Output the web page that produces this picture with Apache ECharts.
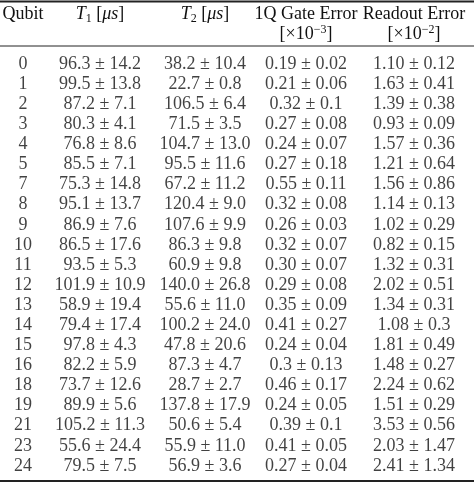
<!DOCTYPE html>
<html><head><meta charset="utf-8">
<script src="https://cdn.jsdelivr.net/npm/echarts@6/dist/echarts.min.js"></script>
<style>html,body{margin:0;padding:0;background:#fff}#c{width:474px;height:483px}</style>
</head><body><div id="c"></div>
<script>
const qubits = ['0','1','2','3','4','5','7','8','9','10','11','12','13','14','15','16','18','19','21','23','24'];
const t1 = ['96.3 ± 14.2','99.5 ± 13.8','87.2 ± 7.1','80.3 ± 4.1','76.8 ± 8.6','85.5 ± 7.1','75.3 ± 14.8','95.1 ± 13.7','86.9 ± 7.6','86.5 ± 17.6','93.5 ± 5.3','101.9 ± 10.9','58.9 ± 19.4','79.4 ± 17.4','97.8 ± 4.3','82.2 ± 5.9','73.7 ± 12.6','89.9 ± 5.6','105.2 ± 11.3','55.6 ± 24.4','79.5 ± 7.5'];
const t2 = ['38.2 ± 10.4','22.7 ± 0.8','106.5 ± 6.4','71.5 ± 3.5','104.7 ± 13.0','95.5 ± 11.6','67.2 ± 11.2','120.4 ± 9.0','107.6 ± 9.9','86.3 ± 9.8','60.9 ± 9.8','140.0 ± 26.8','55.6 ± 11.0','100.2 ± 24.0','47.8 ± 20.6','87.3 ± 4.7','28.7 ± 2.7','137.8 ± 17.9','50.6 ± 5.4','55.9 ± 11.0','56.9 ± 3.6'];
const gateErr = ['0.19 ± 0.02','0.21 ± 0.06','0.32 ± 0.1','0.27 ± 0.08','0.24 ± 0.07','0.27 ± 0.18','0.55 ± 0.11','0.32 ± 0.08','0.26 ± 0.03','0.32 ± 0.07','0.30 ± 0.07','0.29 ± 0.08','0.35 ± 0.09','0.41 ± 0.27','0.24 ± 0.04','0.3 ± 0.13','0.46 ± 0.17','0.24 ± 0.05','0.39 ± 0.1','0.41 ± 0.05','0.27 ± 0.04'];
const readoutErr = ['1.10 ± 0.12','1.63 ± 0.41','1.39 ± 0.38','0.93 ± 0.09','1.57 ± 0.36','1.21 ± 0.64','1.56 ± 0.86','1.14 ± 0.13','1.02 ± 0.29','0.82 ± 0.15','1.32 ± 0.31','2.02 ± 0.51','1.34 ± 0.31','1.08 ± 0.3','1.81 ± 0.49','1.48 ± 0.27','2.24 ± 0.62','1.51 ± 0.29','3.53 ± 0.56','2.03 ± 1.47','2.41 ± 1.34'];
const columns = [qubits, t1, t2, gateErr, readoutErr];

const colCenters = [23, 100, 205, 306, 414];
const FONT = '"Liberation Serif","DejaVu Serif",serif';
const FS = 18;
const chart = echarts.init(document.getElementById('c'));
const series = columns.map((col, ci) => ({
  type: 'scatter', symbolSize: 0, silent: true,
  data: col.map((v, ri) => ({value: [colCenters[ci], ri], txt: v})),
  label: {show: true, position: 'inside', formatter: p => p.data.txt,
    fontFamily: FONT, fontSize: FS, color: '#111'}
}));
const hdr = (x, y, t) => ({type:'text', x, y, style:{text:t, align:'center', verticalAlign:'middle',
  font: FS + 'px ' + FONT, fontSize: FS, fontFamily: FONT, fill:'#111', rich: rich}});
const rich = {
  it:{fontFamily:FONT, fontStyle:'italic', fontSize:FS, fill:'#111'},
  sub:{fontFamily:FONT, fontSize:12, fill:'#111', padding:[9,0,0,0]},
  n:{fontFamily:FONT, fontSize:FS, fill:'#111'},
  sup:{fontFamily:FONT, fontSize:12, fill:'#111', padding:[0,0,9,0]}
};
const line = (y, w) => ({type:'line', shape:{x1:0,y1:y,x2:474,y2:y}, style:{stroke:'#222', lineWidth:w}});
chart.setOption({
  animation: false,
  grid: {left: 0, right: 0, top: 54, bottom: 7},
  xAxis: {type: 'value', min: 0, max: 474, show: false},
  yAxis: {type: 'category', data: qubits, inverse: true, show: false},
  series,
  graphic: [
    line(1.5, 1.8), line(46, 1), line(481, 1.8),
    hdr(colCenters[0], 14, '{n|Qubit}'),
    hdr(colCenters[1], 14, '{it|T}{sub|1}{n| [}{it|μs}{n|]}'),
    hdr(colCenters[2], 14, '{it|T}{sub|2}{n| [}{it|μs}{n|]}'),
    hdr(colCenters[3], 14, '{n|1Q Gate Error}'),
    hdr(colCenters[4], 14, '{n|Readout Error}'),
    hdr(colCenters[3], 34, '{n|[×10}{sup|−3}{n|]}'),
    hdr(colCenters[4], 34, '{n|[×10}{sup|−2}{n|]}')
  ]
});
</script></body></html>
